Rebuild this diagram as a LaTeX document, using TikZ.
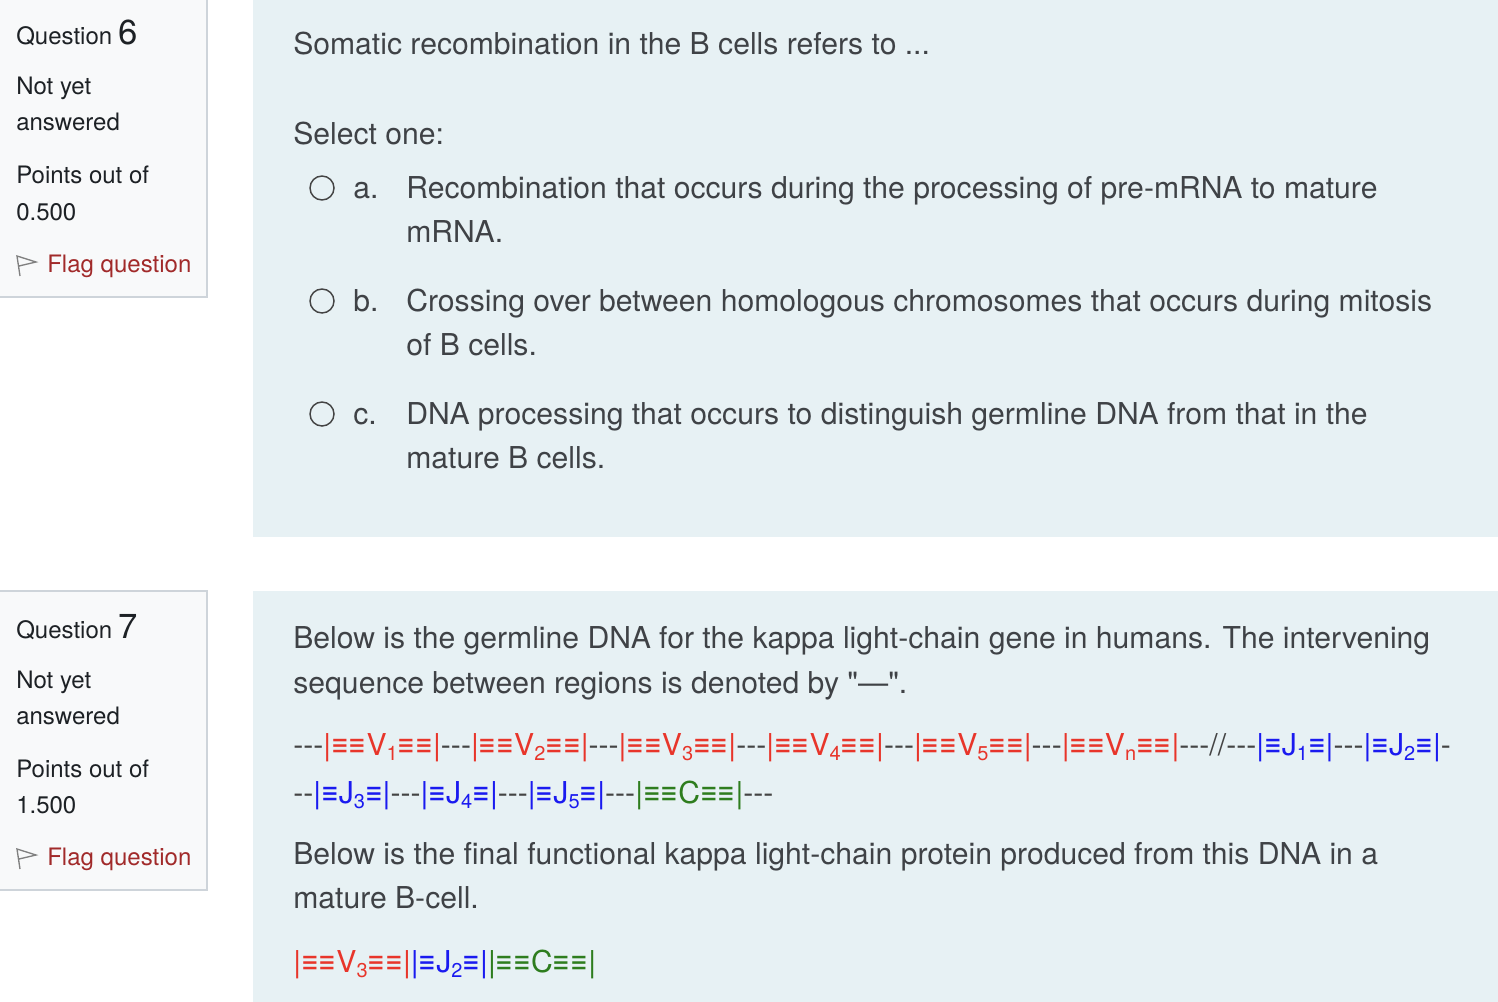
\documentclass[tikz,border=0pt]{standalone}
\usepackage{fontspec}
\setmainfont{TeX Gyre Heros}
\newfontfamily\djv{DejaVu Sans}
\definecolor{txt}{HTML}{1D2125}
\definecolor{side}{HTML}{F8F9FA}
\definecolor{sideb}{HTML}{CED4DA}
\definecolor{cont}{HTML}{E7F1F4}
\definecolor{rd}{HTML}{E8352A}
\definecolor{bl}{HTML}{1A1AF0}
\definecolor{gr}{HTML}{2E7D1E}
\definecolor{gy}{HTML}{444444}
\definecolor{flag}{HTML}{A12A2A}
\newcommand\eqq{\scalebox{0.7}[1]{\djv ≡}}
\newcommand\sbs[1]{\raisebox{-0.35ex}{\fontsize{15}{15}\selectfont #1}}
\newcommand\dd{\textcolor{gy}{-{}-{}-}}
\begin{document}
\begin{tikzpicture}[x=0.75pt,y=-0.75pt,
  sidetxt/.style={anchor=base west,inner sep=0,font=\fontsize{18}{20}\selectfont,text=txt},
  maintxt/.style={anchor=base west,inner sep=0,font=\fontsize{22.6}{25}\selectfont,text=txt!85},
  radio/.style={circle,draw=gy,line width=1.1pt,minimum size=18pt,inner sep=0}]
\useasboundingbox (0,0) rectangle (1498,1002);
% Q6
\fill[side] (0,0) rectangle (207,297);
\draw[sideb,line width=1.5pt] (0,297) -- (207,297) -- (207,0);
\fill[cont] (253,0) rectangle (1498,537);
\node[sidetxt] (q6) at (16,45) {Question \fontsize{26}{26}\selectfont 6};
\node[sidetxt] (n6) at (16,95) {Not yet};
\node[sidetxt] (a6) at (16,131) {answered};
\node[sidetxt] (p6) at (16,184) {Points out of};
\node[sidetxt] (v6) at (16,220) {0.500};
\draw[gray,line width=1pt] (20,276) -- (17,256) -- (36,262) -- (19,266);
\node[sidetxt,text=flag] (f6) at (47,272) {Flag question};
\node[maintxt] (s6) at (293,55) {Somatic recombination in the B cells refers to ...};
\node[maintxt] (sel6) at (293,145) {Select one:};
\node[radio] (ra) at (322,188) {};
\node[radio] (rb) at (322,301) {};
\node[radio] (rc) at (322,414) {};
\node[maintxt] (la) at (353,198) {a.};
\node[maintxt] (lb) at (353,311) {b.};
\node[maintxt] (lc) at (353,424) {c.};
\node[maintxt] (ta1) at (406,198) {Recombination that occurs during the processing of pre-mRNA to mature};
\node[maintxt] (ta2) at (406,242) {mRNA.};
\node[maintxt] (tb1) at (406,311) {Crossing over between homologous chromosomes that occurs during mitosis};
\node[maintxt] (tb2) at (406,355) {of B cells.};
\node[maintxt] (tc1) at (406,424) {DNA processing that occurs to distinguish germline DNA from that in the};
\node[maintxt] (tc2) at (406,468) {mature B cells.};
% Q7
\fill[side] (0,591) rectangle (207,890);
\draw[sideb,line width=1.5pt] (0,591) -- (207,591) -- (207,890) -- (0,890);
\fill[cont] (253,591) rectangle (1498,1002);
\node[sidetxt] (q7) at (16,638) {Question \fontsize{26}{26}\selectfont 7};
\node[sidetxt] (n7) at (16,688) {Not yet};
\node[sidetxt] (a7) at (16,724) {answered};
\node[sidetxt] (p7) at (16,777) {Points out of};
\node[sidetxt] (v7) at (16,813) {1.500};
\draw[gray,line width=1pt] (20,869) -- (17,849) -- (36,855) -- (19,859);
\node[sidetxt,text=flag] (f7) at (47,865) {Flag question};
\node[maintxt] (b1) at (293,648) {Below is the germline DNA for the kappa light-chain gene in humans. The intervening};
\node[maintxt] (b2) at (293,693) {sequence between regions is denoted by \textquotedbl\textemdash\textquotedbl.};
\node[maintxt] (d1) at (293,755) {\dd\textcolor{rd}{|\eqq\eqq V\sbs{1}\eqq\eqq|}\dd\textcolor{rd}{|\eqq\eqq V\sbs{2}\eqq\eqq|}\dd\textcolor{rd}{|\eqq\eqq V\sbs{3}\eqq\eqq|}\dd\textcolor{rd}{|\eqq\eqq V\sbs{4}\eqq\eqq|}\dd\textcolor{rd}{|\eqq\eqq V\sbs{5}\eqq\eqq|}\dd\textcolor{rd}{|\eqq\eqq V\sbs{n}\eqq\eqq|}\dd\textcolor{gy}{//}\dd\textcolor{bl}{|\eqq J\sbs{1}\eqq|}\dd\textcolor{bl}{|\eqq J\sbs{2}\eqq|}\textcolor{gy}{-}};
\node[maintxt] (d2) at (293,803) {\textcolor{gy}{-{}-}\textcolor{bl}{|\eqq J\sbs{3}\eqq|}\dd\textcolor{bl}{|\eqq J\sbs{4}\eqq|}\dd\textcolor{bl}{|\eqq J\sbs{5}\eqq|}\dd\textcolor{gr}{|\eqq\eqq C\eqq\eqq|}\dd};
\node[maintxt] (f1) at (293,864) {Below is the final functional kappa light-chain protein produced from this DNA in a};
\node[maintxt] (f2) at (293,908) {mature B-cell.};
\node[maintxt] (fin) at (293,972) {\textcolor{rd}{|\eqq\eqq V\sbs{3}\eqq\eqq|}\textcolor{bl}{|\eqq J\sbs{2}\eqq|}\textcolor{gr}{|\eqq\eqq C\eqq\eqq|}};
\end{tikzpicture}
\end{document}
